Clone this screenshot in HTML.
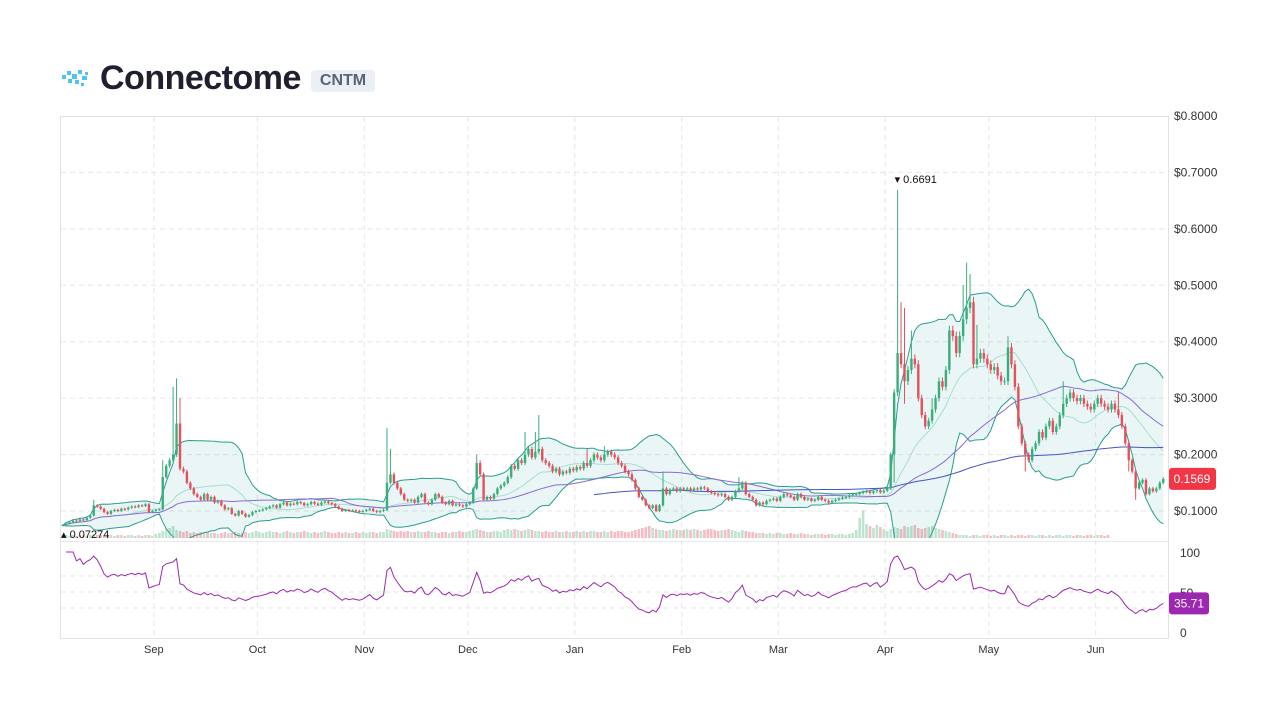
<!DOCTYPE html>
<html><head><meta charset="utf-8"><style>
body{margin:0;background:#fff;width:1280px;height:720px;overflow:hidden;font-family:"Liberation Sans",sans-serif}
svg{position:absolute;left:0;top:0}
</style></head><body>
<svg id="c" width="1280" height="720"></svg>
<script>
const closes=[0.075,0.078,0.08,0.083,0.082,0.085,0.084,0.088,0.092,0.11,
0.108,0.104,0.098,0.095,0.1,0.102,0.1,0.104,0.103,0.106,
0.108,0.107,0.11,0.109,0.112,0.098,0.1,0.102,0.103,0.16,
0.18,0.19,0.2,0.255,0.175,0.17,0.15,0.14,0.13,0.125,
0.12,0.13,0.12,0.125,0.115,0.118,0.11,0.103,0.105,0.095,
0.092,0.1,0.095,0.09,0.093,0.098,0.1,0.101,0.103,0.105,
0.108,0.11,0.106,0.112,0.115,0.11,0.113,0.112,0.116,0.114,
0.11,0.112,0.116,0.113,0.111,0.115,0.117,0.114,0.112,0.108,
0.104,0.1,0.102,0.1,0.101,0.1,0.099,0.1,0.102,0.104,
0.1,0.098,0.1,0.102,0.15,0.165,0.15,0.14,0.13,0.12,
0.118,0.12,0.115,0.125,0.13,0.115,0.112,0.12,0.13,0.125,
0.115,0.112,0.118,0.11,0.112,0.11,0.108,0.112,0.115,0.14,
0.185,0.165,0.12,0.125,0.122,0.13,0.14,0.145,0.15,0.16,
0.18,0.175,0.19,0.185,0.2,0.21,0.195,0.205,0.21,0.19,
0.185,0.18,0.17,0.175,0.165,0.17,0.168,0.175,0.172,0.178,
0.175,0.185,0.18,0.19,0.2,0.195,0.19,0.2,0.205,0.2,
0.195,0.185,0.18,0.17,0.165,0.155,0.14,0.125,0.12,0.11,
0.105,0.11,0.1,0.11,0.14,0.13,0.138,0.14,0.135,0.14,
0.138,0.14,0.136,0.14,0.138,0.142,0.14,0.135,0.132,0.13,
0.128,0.13,0.125,0.12,0.125,0.135,0.14,0.15,0.13,0.125,
0.12,0.11,0.115,0.112,0.118,0.12,0.122,0.118,0.125,0.13,
0.128,0.125,0.12,0.13,0.125,0.12,0.122,0.118,0.12,0.125,
0.12,0.118,0.115,0.118,0.12,0.122,0.124,0.125,0.128,0.13,
0.13,0.132,0.134,0.135,0.132,0.135,0.137,0.133,0.136,0.14,
0.2,0.31,0.38,0.36,0.33,0.35,0.37,0.36,0.3,0.27,
0.25,0.26,0.28,0.3,0.33,0.32,0.35,0.42,0.41,0.38,
0.41,0.44,0.46,0.47,0.36,0.37,0.38,0.37,0.36,0.35,
0.355,0.34,0.33,0.33,0.39,0.36,0.32,0.25,0.22,0.2,
0.19,0.21,0.22,0.24,0.23,0.25,0.26,0.24,0.25,0.27,
0.29,0.3,0.31,0.3,0.295,0.3,0.29,0.285,0.28,0.29,
0.3,0.29,0.285,0.28,0.29,0.28,0.27,0.25,0.22,0.19,
0.17,0.14,0.15,0.155,0.13,0.14,0.135,0.14,0.15,0.1569];
const highSpikes={9:0.12,29:0.19,32:0.32,33:0.335,34:0.3,94:0.247,95:0.21,120:0.2,121:0.19,134:0.24,138:0.27,137:0.24,152:0.21,157:0.215,174:0.17,196:0.16,242:0.6691,243:0.47,244:0.46,246:0.42,252:0.3,261:0.5,262:0.54,263:0.52,265:0.43,274:0.41,290:0.33,306:0.31};
const lowSpikes={0:0.07274,241:0.15,244:0.29,279:0.17,309:0.17,311:0.12};
const volumes=[3,3,2,3,2,3,3,2,3,4,3,3,2,3,3,2,3,3,2,3,3,2,3,2,3,3,2,4,5,7,
9,10,12,8,7,6,7,5,6,5,6,5,6,5,5,4,5,6,5,5,6,5,5,6,5,6,7,6,5,6,
7,6,6,5,6,7,6,5,6,6,7,6,5,6,5,6,7,6,5,5,6,5,6,5,5,6,5,6,5,6,
6,5,6,6,9,8,7,6,7,6,7,6,6,7,6,6,7,6,6,5,6,6,5,6,6,7,6,6,7,8,
9,8,7,6,6,7,7,6,8,9,8,9,8,7,8,9,8,7,7,6,7,6,6,7,6,6,7,6,6,7,
6,7,6,7,7,6,6,7,6,7,6,7,7,6,6,7,8,9,10,11,12,10,9,8,8,7,8,9,8,8,
8,9,8,9,8,7,8,9,9,8,7,8,8,9,8,7,6,8,7,6,6,5,5,5,4,5,4,5,5,4,
4,5,4,4,5,4,4,3,4,4,4,3,4,4,3,4,4,3,4,5,
8,20,28,14,12,10,13,11,9,7,9,11,10,9,12,11,12,13,10,9,10,11,12,10,9,8,7,6,5,4,
3,3,3,2,3,3,2,3,3,2,3,2,3,3,2,3,2,3,3,2,3,3,2,3,3,2,3,2,3,3,2,3,3,2,3,3,2,3,3,2,3,3,2,3];
const priceTicks=[0.1,0.2,0.3,0.4,0.5,0.6,0.7,0.8];
const rsiTicks=[0,50,100];
const months=["Sep","Oct","Nov","Dec","Jan","Feb","Mar","Apr","May","Jun"];
const monthDays=[27,57,88,118,149,180,208,239,269,300];

const svg=document.getElementById('c');
const NS='http://www.w3.org/2000/svg';
function el(t,a,p){const e=document.createElementNS(NS,t);for(const k in a)e.setAttribute(k,a[k]);(p||svg).appendChild(e);return e;}
const L=61,R=1167,PT=116,PB=538,RT=552,RB=632;
const step=3.45;
const xd=i=>L+1.7+step*i;
const yp=p=>PT+(0.8-p)*564.3;
const yr=v=>RB-(v/100)*(RB-RT);

const frame=el('rect',{x:60.5,y:116.5,width:1108,height:522,fill:'none',stroke:'#e2e2e2'});

el('line',{x1:60,x2:1168,y1:541.5,y2:541.5,stroke:'#e8e8e8'});
priceTicks.forEach(p=>{
 const y=yp(p);
 if(p<0.8){const g=el('line',{x1:61,x2:1167,y1:y,y2:y,stroke:'#e6e6e6','stroke-dasharray':'5,4'});}
 const t=el('text',{x:1174,y:y+4,'font-size':12,fill:'#333'});t.textContent='$'+p.toFixed(4);
 
});
[70,50,30].forEach(v=>{el('line',{x1:61,x2:1167,y1:yr(v),y2:yr(v),stroke:'#e6e6e6','stroke-dasharray':'5,4'});});
rsiTicks.forEach(v=>{const t=el('text',{x:1180,y:yr(v)+5,'font-size':12,fill:'#333'});t.textContent=v;
 });
months.forEach((m,k)=>{
 const x=xd(monthDays[k])-2;
 const g=el('line',{x1:x,x2:x,y1:117,y2:638,stroke:'#e6e6e6','stroke-dasharray':'5,4'});
 
 const t=el('text',{x:x,y:653,'font-size':11,fill:'#333','text-anchor':'middle'});t.textContent=m;
 
});

const clip=el('clipPath',{id:'pc'});el('rect',{x:61,y:117,width:1106,height:421},clip);
const g=el('g',{'clip-path':'url(#pc)'});
const N=closes.length;
const opens=closes.map((c,i)=>i?closes[i-1]:c*0.98);
const vmax=Math.max(...volumes);
volumes.forEach((v,i)=>{
 const h=v/vmax*28;const up=closes[i]>=opens[i];
 const r=el('rect',{x:xd(i)-1.3,y:PB-h,width:2.6,height:h,fill:up?'#bfe3cf':'#f6bcc4'},g);
 
});
const bbU=[],bbL=[],bbM=[];
for(let i=0;i<N;i++){const s=closes.slice(Math.max(0,i-19),i+1);const m=s.reduce((a,b)=>a+b,0)/s.length;
 const sd=Math.sqrt(s.reduce((a,b)=>a+(b-m)*(b-m),0)/s.length);bbM.push(m);bbU.push(m+2*sd);bbL.push(m-2*sd);}
let d='';for(let i=0;i<N;i++)d+=(i?'L':'M')+xd(i)+','+yp(bbU[i]);for(let i=N-1;i>=0;i--)d+='L'+xd(i)+','+yp(bbL[i]);
const band=el('path',{d:d+'Z',fill:'rgba(38,166,154,0.1)',stroke:'none'},g);

function line(arr,col,w,name,start){let s='';let f=true;for(let i=start||0;i<arr.length;i++){if(arr[i]==null)continue;s+=(f?'M':'L')+xd(i)+','+yp(arr[i]);f=false;}
 const p=el('path',{d:s,fill:'none',stroke:col,'stroke-width':w},g);}
line(bbU,'#2a9d8f',1,'bollinger-upper');line(bbL,'#2a9d8f',1,'bollinger-lower');line(bbM,'#a9dccf',1,'bollinger-middle');
const ma50=[],ma150=[];
for(let i=0;i<N;i++){const s=closes.slice(Math.max(0,i-49),i+1);ma50.push(s.reduce((a,b)=>a+b,0)/s.length);
 if(i>=154){const t=closes.slice(i-149,i+1);ma150.push(t.reduce((a,b)=>a+b,0)/150);}else ma150.push(null);}
line(ma50,'#8a6ad6',1,'ma-50-line');line(ma150,'#4455c4',1,'ma-200-line');
for(let i=0;i<N;i++){
 const o=opens[i],c=closes[i];const up=c>=o;const col=up?'#3aae7a':'#e4505c';
 const hi=highSpikes[i]!=null?highSpikes[i]:Math.max(o,c)*1.02;
 const lo=lowSpikes[i]!=null?lowSpikes[i]:Math.min(o,c)*0.98;
 const w=el('line',{x1:xd(i),x2:xd(i),y1:yp(hi),y2:yp(lo),stroke:col,'stroke-width':1},g);
 
 const top=yp(Math.max(o,c)),h=Math.max(1,Math.abs(yp(o)-yp(c)));
 const b=el('rect',{x:xd(i)-1.2,y:top,width:2.4,height:h,fill:col},g);
 
}
let mi=0;for(const k in highSpikes)if(highSpikes[k]>(highSpikes[mi]||0))mi=+k;
const mx=el('text',{x:xd(mi)-3,y:183,'font-size':11,fill:'#111'});mx.textContent='▾ '+highSpikes[mi];

const mn=el('text',{x:61,y:538,'font-size':11,fill:'#111'});mn.textContent='▴ '+lowSpikes[0];

const ly=yp(closes[N-1]);
el('rect',{x:1169,y:ly-11,width:47,height:22,rx:3,fill:'#f23645'});
const lt=el('text',{x:1192,y:ly+4,'font-size':12,fill:'#fff','text-anchor':'middle'});lt.textContent=closes[N-1].toFixed(4);

const rsi=[];let ag=0,al=0;
for(let i=1;i<N;i++){const ch=closes[i]-closes[i-1];const gn=Math.max(ch,0),ls=Math.max(-ch,0);
 if(i<=14){ag+=gn/14;al+=ls/14;}else{ag=(ag*13+gn)/14;al=(al*13+ls)/14;}
 rsi[i]=al===0?100:100-100/(1+ag/al);}
let rs='';for(let i=1;i<N;i++)rs+=(i>1?'L':'M')+xd(i)+','+yr(rsi[i]);
const rp=el('path',{d:rs,fill:'none',stroke:'#9c27b0','stroke-width':1});

const ry=yr(rsi[N-1]);
el('rect',{x:1169,y:ry-11,width:40,height:22,rx:3,fill:'#9c27b0'});
const rt=el('text',{x:1189,y:ry+4,'font-size':12,fill:'#fff','text-anchor':'middle'});rt.textContent=rsi[N-1].toFixed(2);

</script>
<div style="position:absolute;left:60px;top:56px;height:44px;display:flex;align-items:center">
 <svg width="32" height="26" style="position:static" viewBox="0 0 32 26">
  <g fill="#4cc3f0"><rect x="2" y="10" width="4" height="4"/><rect x="7" y="6" width="4" height="4"/><rect x="12" y="9" width="5" height="5"/><rect x="18" y="5" width="4" height="4"/><rect x="22" y="11" width="5" height="4"/><rect x="8" y="14" width="4" height="4"/><rect x="15" y="15" width="4" height="4"/><rect x="21" y="18" width="3" height="3"/><rect x="25" y="7" width="3" height="3"/></g></svg>
 <span style="font-size:34px;font-weight:bold;color:#1e2030;margin-left:8px;letter-spacing:-0.5px">Connectome</span>
 <span style="margin-left:10px;margin-top:6px;background:#eceff3;color:#5a6478;font-size:16px;font-weight:bold;padding:2px 9px;border-radius:4px">CNTM</span>
</div>
</body></html>
